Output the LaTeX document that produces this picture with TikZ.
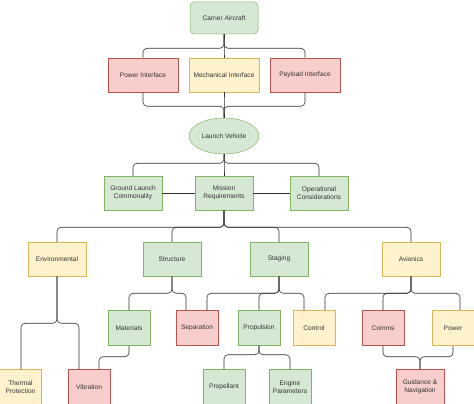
\documentclass[tikz,border=0pt]{standalone}
\usepackage{fontspec}
\setmainfont{Liberation Sans}
\usetikzlibrary{shapes.geometric}
\definecolor{gfill}{HTML}{D5E8D4}\definecolor{gline}{HTML}{82B366}
\definecolor{rfill}{HTML}{F8CECC}\definecolor{rline}{HTML}{B85450}
\definecolor{yfill}{HTML}{FFF2CC}\definecolor{yline}{HTML}{D6B656}
\definecolor{ink}{HTML}{333333}
\tikzset{
  blk/.style={draw, line width=0.5pt, minimum width=58pt, minimum height=34pt, align=center,
    inner sep=1pt, text=ink, font=\fontsize{6.6}{7.8}\selectfont},
  grn/.style={blk, fill=gfill, draw=gline},
  rd/.style={blk, fill=rfill, draw=rline},
  yel/.style={blk, fill=yfill, draw=yline},
  sml/.style={minimum width=42pt, minimum height=35pt},
  link/.style={draw=ink, line width=0.6pt, rounded corners=4pt}
}
\begin{document}
\begin{tikzpicture}[x=1pt,y=-1pt]
  \useasboundingbox (0,0) rectangle (474,404);
  % Ebene 1 und 2
  \node[grn, rounded corners=4pt, minimum width=68pt, minimum height=32pt] (ca) at (224,18) {Carrier Aircraft};
  \node[rd, minimum width=70pt] (pwi) at (143,75) {Power Interface};
  \node[yel, minimum width=70pt] (mei) at (224,75) {Mechanical Interface};
  \node[rd, minimum width=70pt] (pli) at (305,75) {Payload Interface};
  \node[grn, ellipse, minimum width=70pt, minimum height=36pt] (lv) at (224,136) {Launch Vehicle};
  \node[grn] (glc) at (133,193) {Ground Launch\\Commonality};
  \node[grn] (mr) at (224,193) {Mission\\Requirements};
  \node[grn] (oc) at (319,193) {Operational\\Considerations};
  % Teilsysteme
  \node[yel] (env) at (57,259) {Environmental};
  \node[grn] (str) at (172,259) {Structure};
  \node[grn] (stg) at (279,259) {Staging};
  \node[yel] (avi) at (411,259) {Avionics};
  \node[grn,sml] (mat) at (129,328) {Materials};
  \node[rd,sml] (sep) at (197,328) {Separation};
  \node[grn,sml] (prp) at (259,328) {Propulsion};
  \node[yel,sml] (ctl) at (314,328) {Control};
  \node[rd,sml] (com) at (383,328) {Comms};
  \node[yel,sml] (pwr) at (453,328) {Power};
  \node[yel,sml] (thp) at (20.5,387) {Thermal\\Protection};
  \node[rd,sml] (vib) at (89,387) {Vibration};
  \node[grn,sml] (prl) at (224,387) {Propellant};
  \node[grn,sml] (eng) at (290,387) {Engine\\Parameters};
  \node[rd,sml,minimum width=48pt] (gnc) at (420,387) {Guidance \&\\Navigation};

  \foreach \c in {pwi,mei,pli} {
    \draw[link] (ca.south) -- ++(0,14) -| (\c.north);
    \draw[link] (\c.south) -- ++(0,14) -| (lv.north);
  }
  \foreach \c in {glc,mr,oc}
    \draw[link] (lv.south) -- ++(0,9) -| (\c.north);
  \draw[link] (glc) -- (mr) -- (oc);
  \foreach \c in {env,str,stg,avi}
    \draw[link] (mr.south) -- ++(0,17) -| (\c.north);

  \draw[link] (str.south) -- ++(0,17) -| (mat.north);
  \draw[link] (str.south) -- ++(0,17) -| ([xshift=-11pt]sep.north);
  \draw[link] (stg.south) -- ++(0,17) -| ([xshift=10pt]sep.north);
  \draw[link] (stg.south) -- ++(0,17) -| (prp.north);
  \draw[link] (stg.south) -- ++(0,17) -| ([xshift=-10pt]ctl.north);
  \draw[link] (avi.south) -- ++(0,17) -| ([xshift=11pt]ctl.north);
  \draw[link] (avi.south) -- ++(0,17) -| (com.north);
  \draw[link] (avi.south) -- ++(0,17) -| ([xshift=7pt]pwr.north);

  \draw[link] (env.south) -- ++(0,47) -| ([xshift=0.5pt]thp.north);
  \draw[link] (env.south) -- ++(0,47) -| ([xshift=-10pt]vib.north);
  \draw[link] (mat.south) -- ++(0,11) -| ([xshift=10pt]vib.north);
  \draw[link] (prp.south) -- ++(0,9) -| (prl.north);
  \draw[link] (prp.south) -- ++(0,9) -| (eng.north);
  \draw[link] (com.south) -- ++(0,11) -| (gnc.north);
  \draw[link] (pwr.south) -- ++(0,11) -| (gnc.north);
\end{tikzpicture}
\end{document}
